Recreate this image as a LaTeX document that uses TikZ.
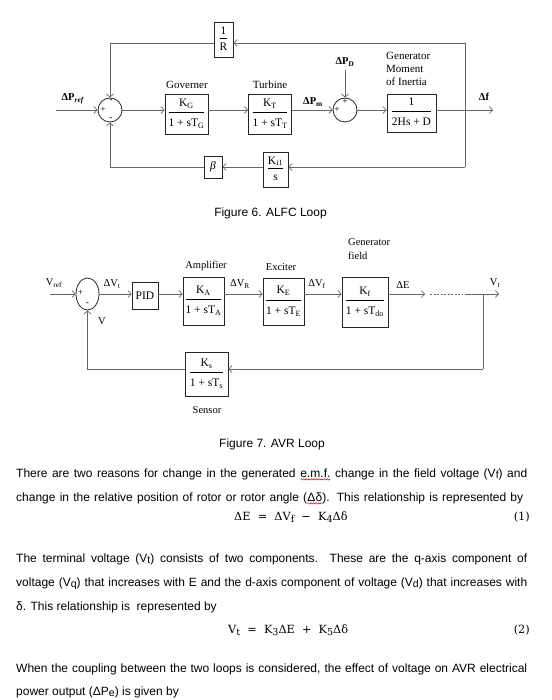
\documentclass[tikz,border=0pt]{standalone}
\usepackage{fontspec}
\setmainfont{Liberation Serif}
\newfontfamily\bodyfont{Liberation Sans}
\newfontfamily\eqfont{DejaVu Serif}
\usetikzlibrary{arrows.meta,decorations.pathmorphing,shapes.geometric}
\setlength\arrayrulewidth{0.75pt}

\newcommand\fr[2]{\begin{tabular}{@{}c@{}}\rule[-6pt]{0pt}{10pt}#1\\\hline\rule{0pt}{14pt}#2\end{tabular}}
\newcommand\frs[2]{\begin{tabular}{@{}c@{}}\rule[-3.5pt]{0pt}{9pt}#1\\\hline\rule{0pt}{11.5pt}#2\end{tabular}}
\newcommand\sbs[1]{\textsubscript{#1}}
\newcommand\lowr[1]{\raisebox{-1.5pt}{\fontsize{10.5}{10.5}\selectfont #1}}
\newcommand\eqsub[1]{\raisebox{-2pt}{\fontsize{9.5}{9.5}\selectfont #1}}
\newcommand\wavy[1]{\tikz[baseline=(wv.base)]{\node[inner sep=0pt,outer sep=0pt](wv){#1};\draw[red!85!black,line width=0.5pt,decorate,decoration={snake,amplitude=0.7pt,segment length=2.6pt}] ([yshift=-2.4pt]wv.base west) -- ([yshift=-2.4pt]wv.base east);}}

\begin{document}
\begin{tikzpicture}[x=1pt,y=-1pt,
  blk/.style={draw=black!85,line width=0.8pt,fill=white,inner sep=1pt,font=\fontsize{11.5}{13}\selectfont},
  circ/.style={circle,draw=black!85,line width=0.8pt,minimum size=24pt,inner sep=0pt},
  ell/.style={ellipse,draw=black!85,line width=0.8pt,minimum width=23pt,minimum height=32pt,inner sep=0pt},
  wire/.style={draw=black!60,line width=0.7pt},
  arr/.style={wire,-{Straight Barb[length=3.2pt,width=7pt]}},
  lbl/.style={inner sep=0pt,font=\fontsize{11}{13}\selectfont},
  lbs/.style={inner sep=0pt,font=\fontsize{10.5}{14}\selectfont},
  lbb/.style={inner sep=0pt,font=\fontsize{10.5}{13}\selectfont\bfseries},
  sgn/.style={inner sep=0pt,font=\fontsize{9.5}{9.5}\selectfont},
  bodytext/.style={inner sep=0pt,anchor=base west,font=\bodyfont\fontsize{12}{14}\selectfont},
  eqn/.style={inner sep=0pt,font=\eqfont\fontsize{11.3}{13}\selectfont},
  figcap/.style={inner sep=0pt,anchor=base,font=\bodyfont\fontsize{12}{14}\selectfont}]
\fill[white] (0,0) rectangle (551,700);
\useasboundingbox (0,0) rectangle (551,700);

% ---------------- Figure 6 ----------------
\node[circ] (s1) at (110,110) {};
\node[blk,minimum width=43pt,minimum height=40pt] (gov) at (186.5,114) {\fr{K\sbs{G}}{1 + sT\sbs{G}}};
\node[blk,minimum width=43pt,minimum height=40pt] (tur) at (270,114) {\fr{K\sbs{T}}{1 + sT\sbs{T}}};
\node[circ] (s2) at (345,110) {};
\node[blk,minimum width=49pt,minimum height=38pt] (gen) at (411.5,113) {\fr{1}{2Hs + D}};
\node[blk,minimum width=19pt,minimum height=35pt,inner sep=0pt] (rr) at (223.5,39.5) {\frs{1}{R}};
\node[blk,minimum width=18pt,minimum height=22pt] (beta) at (213,167) {\textit{β}};
\node[blk,minimum width=25pt,minimum height=35pt,inner sep=0pt] (ki) at (275.5,169.5) {\frs{K\sbs{i1}}{s}};

\coordinate (tr) at (465,43);
\coordinate (br) at (465,167);
\coordinate (tl) at (110,43);
\coordinate (bl) at (110,167);
\coordinate (in1) at (56,110);
\coordinate (out1) at (493,110);
\coordinate (pd) at (345,70);

\draw[arr] (in1) -- (s1);
\draw[arr] (s1) -- (s1 -| gov.west);
\draw[arr] (gov.east |- s1) -- (tur.west |- s1);
\draw[arr] (tur.east |- s1) -- (s2);
\draw[arr] (s2) -- (s2 -| gen.west);
\draw[arr] (gen.east |- s2) -- (out1);
\draw[wire] (tr) -- (br);
\draw[arr] (tr) -- (rr.east |- tr);
\draw[arr] (rr.west |- tr) -- (tl) -- (s1);
\draw[arr] (br) -- (ki.east |- br);
\draw[arr] (ki.west |- br) -- (beta);
\draw[arr] (beta) -- (bl) -- (s1);
\draw[arr] (pd) -- (s2);

\node[sgn] (s1t) at (111,101) {-};
\node[sgn] (s1l) at (103,109.5) {+};
\node[sgn] (s1b) at (111,119) {-};
\node[sgn] (s2t) at (345,101.5) {+};
\node[sgn] (s2l) at (337,110) {+};

\node[lbb] (lpref) at (73,99) {ΔP\textsubscript{\textit{ref}}};
\node[lbb] (lpm) at (313,102) {ΔP\textsubscript{m}};
\node[lbb] (lpd) at (345,62) {ΔP\textsubscript{D}};
\node[lbb] (ldf) at (484,97) {Δf};
\node[lbl] (lgov) at (187,85) {Governer};
\node[lbl] (ltur) at (270,85) {Turbine};
\node[lbl,anchor=north west,align=left] (lgen) at (386,52) {Generator\\Moment\\of Inertia};

\node[figcap] (cap6) at (270.5,217) {Figure 6. ALFC Loop};

% ---------------- Figure 7 ----------------
\node[ell] (s3) at (87.5,294) {};
\node[blk,minimum width=26pt,minimum height=27pt] (pid) at (145,295.5) {PID};
\node[blk,minimum width=41pt,minimum height=48pt] (amp) at (203.5,301) {\fr{K\sbs{A}}{1 + sT\sbs{A}}};
\node[blk,minimum width=41pt,minimum height=47pt] (exc) at (283.5,301.5) {\fr{K\sbs{E}}{1 + sT\sbs{E}}};
\node[blk,minimum width=46pt,minimum height=50pt] (gf) at (365,302) {\fr{K\sbs{f}}{1 + sT\sbs{do}}};
\node[blk,minimum width=43pt,minimum height=44pt] (sen) at (206.5,374) {\fr{K\sbs{s}}{1 + sT\sbs{s}}};

\coordinate (vin) at (50,294);
\coordinate (d1) at (425,294);
\coordinate (d2) at (430,294);
\coordinate (d3) at (462,294);
\coordinate (d4) at (465,294);
\coordinate (vout) at (499,294);
\coordinate (fb1) at (483,294);
\coordinate (fb2) at (483,369);
\coordinate (fb3) at (87.5,369);

\draw[arr] (vin) -- (s3);
\draw[arr] (s3) -- (s3 -| pid.west);
\draw[arr] (pid.east |- s3) -- (amp.west |- s3);
\draw[arr] (amp.east |- s3) -- (exc.west |- s3);
\draw[arr] (exc.east |- s3) -- (gf.west |- s3);
\draw[arr] (gf.east |- s3) -- (d1);
\draw[wire,dash pattern=on 2pt off 1.5pt] (d2) -- (d3);
\draw[arr] (d4) -- (vout);
\draw[wire] (fb1) -- (fb2);
\draw[arr] (fb2) -- (sen.east |- fb2);
\draw[arr] (sen.west |- fb2) -- (fb3) -- (s3);

\node[sgn] (s3l) at (80.5,293) {+};
\node[sgn] (s3b) at (87.5,304) {-};

\node[lbs] (lvref) at (54,283) {V\sbs{ref}};
\node[lbs] (ldvt) at (112,284) {ΔV\sbs{t}};
\node[lbs] (ldvr) at (240,284) {ΔV\sbs{R}};
\node[lbs] (ldvf) at (317,284) {ΔV\sbs{f}};
\node[lbs] (lde) at (403,285) {ΔE};
\node[lbs] (lvt) at (495,283) {V\sbs{t}};
\node[lbs] (lv) at (102,321) {V};
\node[lbs] (lamp) at (206,266) {Amplifier};
\node[lbs] (lexc) at (281,267) {Exciter};
\node[lbs,anchor=north west,align=left] (lgf) at (348,238) {Generator\\field};
\node[lbs] (lsen) at (207,410) {Sensor};

\node[figcap] (cap7) at (272,447) {Figure 7. AVR Loop};

% ---------------- Text ----------------
\node[bodytext] (p1) at (16,477) {\makebox[511pt][s]{There are two reasons for change in the generated \wavy{e.m.f.} change in the field voltage (V\lowr{f}) and}};
\node[bodytext] (p2) at (16,501) {\makebox[507pt][s]{change in the relative position of rotor or rotor angle (\wavy{Δδ}). This relationship is represented by}};
\node[eqn,anchor=base west] (eq1) at (234,520) {ΔE\ \ =\ \ ΔV\eqsub{f}\ \ −\ \ K\eqsub{4}Δδ};
\node[eqn,anchor=base east] (n1) at (530,520) {(1)};
\node[bodytext] (p3) at (16,562) {\makebox[511pt][s]{The terminal voltage (V\lowr{t}) consists of two components. These are the q-axis component of}};
\node[bodytext] (p4) at (16,586) {\makebox[511pt][s]{voltage (V\lowr{q}) that increases with E and the d-axis component of voltage (V\lowr{d}) that increases with}};
\node[bodytext] (p5) at (16,610) {δ. This relationship is\ \ represented by};
\node[eqn,anchor=base west] (eq2) at (228,633) {V\eqsub{t}\ \ =\ \ K\eqsub{3}ΔE\ \ +\ \ K\eqsub{5}Δδ};
\node[eqn,anchor=base east] (n2) at (530,633) {(2)};
\node[bodytext] (p6) at (16,672) {\makebox[511pt][s]{When the coupling between the two loops is considered, the effect of voltage on AVR electrical}};
\node[bodytext] (p7) at (16,695) {power output (ΔP\lowr{e}) is given by};
\end{tikzpicture}
\end{document}
